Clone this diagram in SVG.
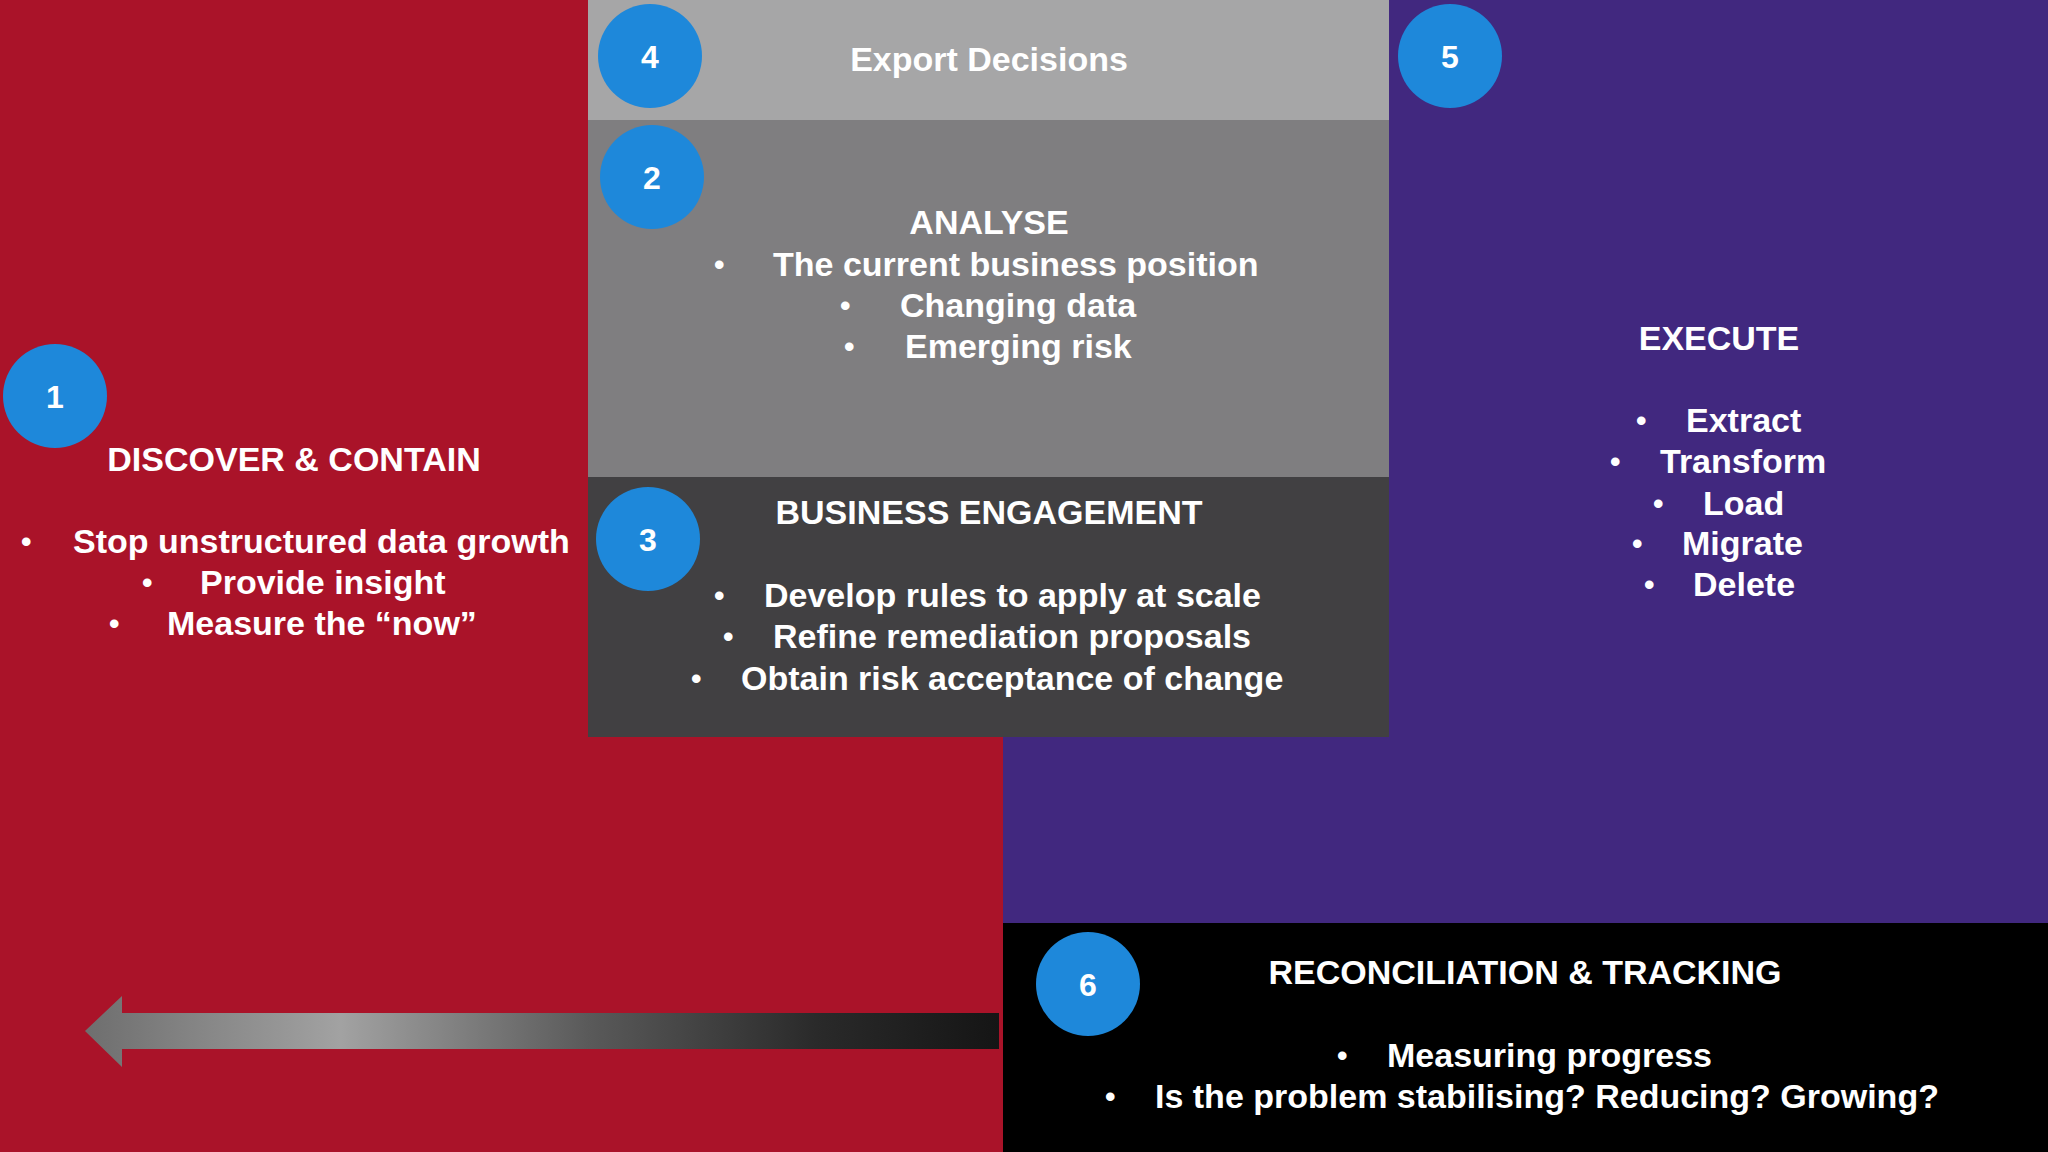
<svg xmlns="http://www.w3.org/2000/svg" width="2048" height="1152" viewBox="0 0 2048 1152">
  <style>
    text { font-family: "Liberation Sans", Arial, sans-serif; font-weight: bold; fill: #ffffff; }
    .t { font-size: 34px; }
    .h { font-size: 34px; text-anchor: middle; }
    .b { font-size: 30px; }
    .num { font-size: 32px; text-anchor: middle; }
    .badge { fill: #1E88DA; }
  </style>
  <defs>
    <linearGradient id="arrowGrad" x1="85" y1="0" x2="999" y2="0" gradientUnits="userSpaceOnUse">
      <stop offset="0" stop-color="#6e6e6e"/>
      <stop offset="0.28" stop-color="#a2a2a2"/>
      <stop offset="0.55" stop-color="#5a5a5a"/>
      <stop offset="0.8" stop-color="#2a2a2a"/>
      <stop offset="1" stop-color="#151515"/>
    </linearGradient>
  </defs>

  <g id="backgrounds">
    <rect x="0" y="0" width="2048" height="1152" fill="#AA1329"/>
    <rect x="1389" y="0" width="659" height="923" fill="#41287F"/>
    <rect x="1003" y="737" width="1045" height="186" fill="#41287F"/>
    <rect x="1003" y="923" width="1045" height="229" fill="#000000"/>
  </g>

  <g id="node-discover">
    <circle class="badge" cx="55" cy="396" r="52"/>
    <text class="num" x="55" y="408">1</text>
    <text class="h" x="294" y="471">DISCOVER &amp; CONTAIN</text>
    <text class="b" x="21" y="552">•</text>
    <text class="t" x="73" y="553">Stop unstructured data growth</text>
    <text class="b" x="142" y="593">•</text>
    <text class="t" x="200" y="594">Provide insight</text>
    <text class="b" x="109" y="634">•</text>
    <text class="t" x="167" y="635">Measure the “now”</text>
  </g>

  <g id="node-export">
    <rect x="588" y="0" width="801" height="120" fill="#A6A6A7"/>
    <circle class="badge" cx="650" cy="56" r="52"/>
    <text class="num" x="650" y="68">4</text>
    <text class="h" x="989" y="71" fill="#f4f4f4">Export Decisions</text>
  </g>

  <g id="node-analyse">
    <rect x="588" y="120" width="801" height="357" fill="#7F7E80"/>
    <circle class="badge" cx="652" cy="177" r="52"/>
    <text class="num" x="652" y="189">2</text>
    <text class="h" x="989" y="234">ANALYSE</text>
    <text class="b" x="714" y="275">•</text>
    <text class="t" x="773" y="276">The current business position</text>
    <text class="b" x="840" y="316">•</text>
    <text class="t" x="900" y="317">Changing data</text>
    <text class="b" x="844" y="357">•</text>
    <text class="t" x="905" y="358">Emerging risk</text>
  </g>

  <g id="node-engagement">
    <rect x="588" y="477" width="801" height="260" fill="#414042"/>
    <circle class="badge" cx="648" cy="539" r="52"/>
    <text class="num" x="648" y="551">3</text>
    <text class="h" x="989" y="524">BUSINESS ENGAGEMENT</text>
    <text class="b" x="714" y="606">•</text>
    <text class="t" x="764" y="607">Develop rules to apply at scale</text>
    <text class="b" x="723" y="647">•</text>
    <text class="t" x="773" y="648">Refine remediation proposals</text>
    <text class="b" x="691" y="689">•</text>
    <text class="t" x="741" y="690">Obtain risk acceptance of change</text>
  </g>

  <g id="node-execute">
    <circle class="badge" cx="1450" cy="56" r="52"/>
    <text class="num" x="1450" y="68">5</text>
    <text class="h" x="1719" y="350">EXECUTE</text>
    <text class="b" x="1636" y="431">•</text>
    <text class="t" x="1686" y="432">Extract</text>
    <text class="b" x="1610" y="472">•</text>
    <text class="t" x="1660" y="473">Transform</text>
    <text class="b" x="1653" y="514">•</text>
    <text class="t" x="1703" y="515">Load</text>
    <text class="b" x="1632" y="554">•</text>
    <text class="t" x="1682" y="555">Migrate</text>
    <text class="b" x="1644" y="595">•</text>
    <text class="t" x="1693" y="596">Delete</text>
  </g>

  <g id="node-reconciliation">
    <circle class="badge" cx="1088" cy="984" r="52"/>
    <text class="num" x="1088" y="996">6</text>
    <text class="h" x="1525" y="984">RECONCILIATION &amp; TRACKING</text>
    <text class="b" x="1337" y="1066">•</text>
    <text class="t" x="1387" y="1067">Measuring progress</text>
    <text class="b" x="1105" y="1107">•</text>
    <text class="t" x="1155" y="1108">Is the problem stabilising? Reducing? Growing?</text>
  </g>

  <g id="connectors">
    <polygon points="85,1031 122,996 122,1013 999,1013 999,1049 122,1049 122,1067" fill="url(#arrowGrad)"/>
  </g>
</svg>
